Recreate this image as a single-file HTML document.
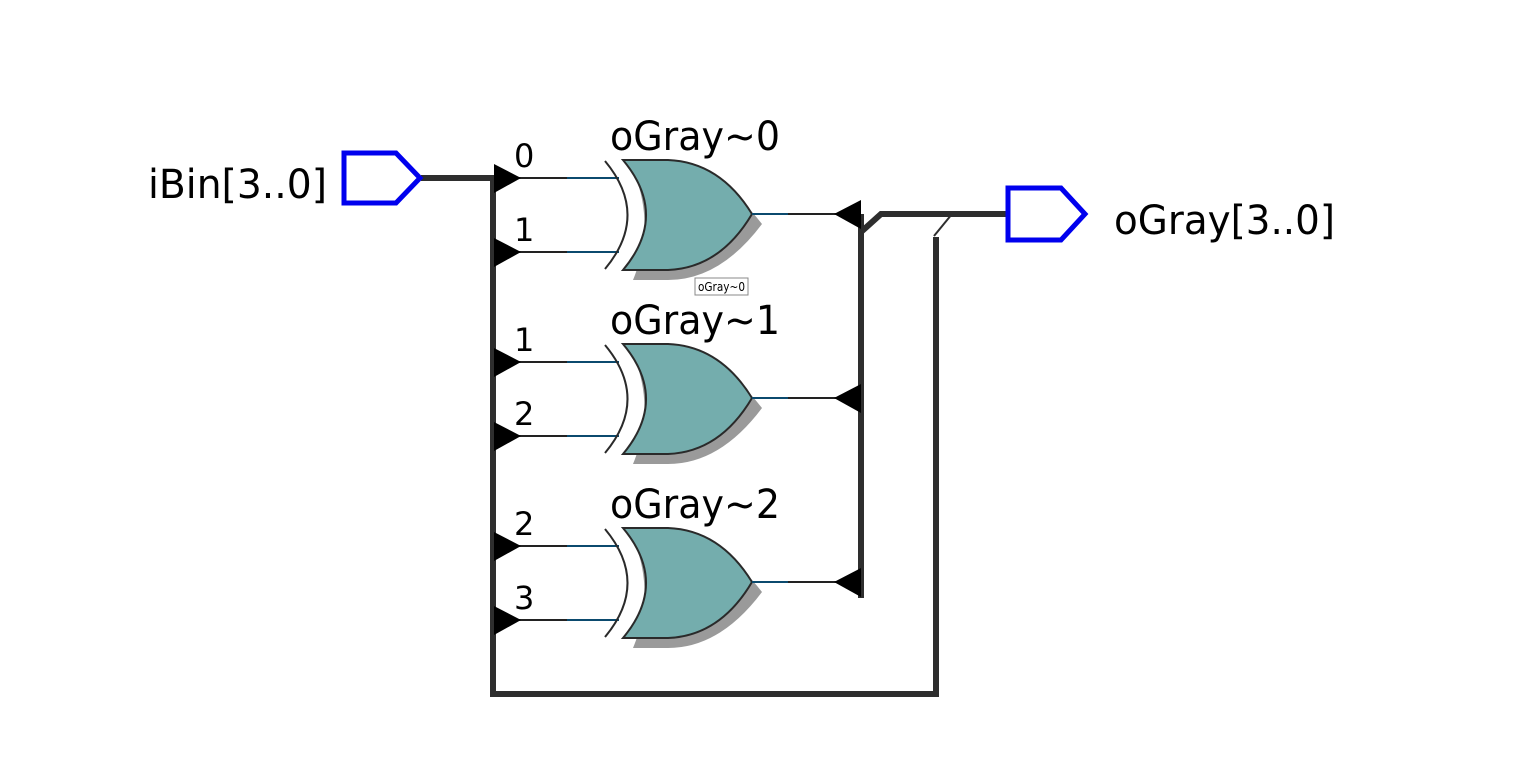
<!DOCTYPE html>
<html><head><meta charset="utf-8"><style>
html,body{margin:0;padding:0;background:#fff;}
svg{display:block;}
text{font-family:"DejaVu Sans","Liberation Sans",sans-serif;fill:#000;}
</style></head><body>
<svg width="1529" height="783" viewBox="0 0 1529 783" xmlns="http://www.w3.org/2000/svg">
<defs>
<g id="gate">
  <line x1="500" y1="178" x2="567" y2="178" stroke="#222" stroke-width="2"/>
  <line x1="567" y1="178" x2="619" y2="178" stroke="#0b4a6e" stroke-width="2"/>
  <line x1="500" y1="252" x2="567" y2="252" stroke="#222" stroke-width="2"/>
  <line x1="567" y1="252" x2="619" y2="252" stroke="#0b4a6e" stroke-width="2"/>
  <path d="M633,170 Q656,225 633,280 L668,280 Q720,280 762,224 Q720,170 668,170 Z" fill="#9a9a9a"/>
  <path d="M623,160 Q669,215 623,270 L668,270 Q720,268 752,214 Q720,162 668,160 Z" fill="#74adad" stroke="#2a2a2a" stroke-width="2"/>
  <path d="M605,161 Q650,215 605,269" fill="none" stroke="#2a2a2a" stroke-width="2"/>
  <line x1="752" y1="214" x2="788" y2="214" stroke="#0b4a6e" stroke-width="2"/>
  <line x1="788" y1="214" x2="838" y2="214" stroke="#222" stroke-width="2"/>
  <polygon points="494,164 521,178 494,193" fill="#000"/>
  <polygon points="494,238 521,252 494,267" fill="#000"/>
  <polygon points="861,200 834,214 861,229" fill="#000"/>
</g>
</defs>

<polyline points="421,178 493,178 493,694 936,694 936,237" fill="none" stroke="#2e2e2e" stroke-width="6"/>
<line x1="934" y1="236" x2="952" y2="214" stroke="#2e2e2e" stroke-width="2"/>
<line x1="861" y1="214" x2="861" y2="598" stroke="#2e2e2e" stroke-width="6"/>
<polyline points="861,232 881,214 1007,214" fill="none" stroke="#2e2e2e" stroke-width="6"/>

<use href="#gate"/>
<use href="#gate" transform="translate(0,184)"/>
<use href="#gate" transform="translate(0,368)"/>

<polygon points="344,153 396,153 420,178 396,203 344,203" fill="#fff" stroke="#0000ee" stroke-width="5"/>
<polygon points="1008,188 1061,188 1085,214 1061,240 1008,240" fill="#fff" stroke="#0000ee" stroke-width="5"/>

<text x="148" y="198" font-size="40" textLength="179" lengthAdjust="spacingAndGlyphs">iBin[3..0]</text>
<text x="1114" y="234" font-size="40" textLength="221" lengthAdjust="spacingAndGlyphs">oGray[3..0]</text>
<text x="610" y="150" font-size="40" textLength="170" lengthAdjust="spacingAndGlyphs">oGray~0</text>
<text x="610" y="334" font-size="40" textLength="170" lengthAdjust="spacingAndGlyphs">oGray~1</text>
<text x="610" y="518" font-size="40" textLength="170" lengthAdjust="spacingAndGlyphs">oGray~2</text>
<text x="514" y="167" font-size="32">0</text>
<text x="514" y="241" font-size="32">1</text>
<text x="514" y="351" font-size="32">1</text>
<text x="514" y="425" font-size="32">2</text>
<text x="514" y="535" font-size="32">2</text>
<text x="514" y="609" font-size="32">3</text>
<rect x="695" y="278" width="53" height="17" fill="#fff" stroke="#888" stroke-width="1"/>
<text x="698" y="291" font-size="12" textLength="47" lengthAdjust="spacingAndGlyphs">oGray~0</text>
</svg>
</body></html>
